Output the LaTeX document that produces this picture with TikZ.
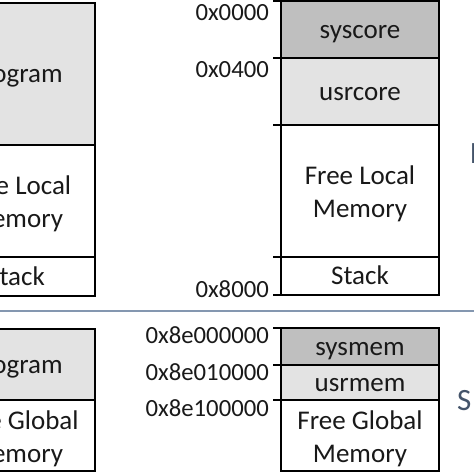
\documentclass[tikz,border=0pt]{standalone}
\usepackage{fontspec}
\setmainfont{Carlito}
\definecolor{darkfill}{HTML}{BFBFBF}
\definecolor{lightfill}{HTML}{E3E3E3}
\definecolor{divider}{HTML}{8497B0}
\definecolor{accent}{HTML}{44546A}
\newcommand{\firstline}{\rule{0pt}{25pt}}
\tikzset{
  cell/.style={draw=black, line width=1.2pt, minimum width=158pt, anchor=north west,
    inner sep=0pt, outer sep=0pt, font=\fontsize{27}{33}\selectfont, align=center, text=black!90},
  onecell/.style={cell, text height=22pt, text depth=5pt},
  darkcell/.style={onecell, fill=darkfill},
  lightcell/.style={onecell, fill=lightfill},
  addr/.style={anchor=base east, inner sep=0pt, font=\fontsize{24.7}{29}\selectfont, text=black!90},
  tickline/.style={line width=1.2pt},
  outerline/.style={line width=2pt},
  sidelabel/.style={anchor=west, inner sep=0pt, text=accent, font=\fontsize{31}{37}\selectfont}
}
\begin{document}
\begin{tikzpicture}[x=1pt,y=-1pt]
\useasboundingbox (0,0) rectangle (474,474);
% left top column
\node[lightcell, minimum height=142pt] (lprog) at (-63,3) {Program};
\node[cell, minimum height=112pt] (lfree) at (lprog.south west) {\firstline Free Local\\Memory};
\node[onecell, minimum height=39pt] (lstack) at (lfree.south west) {Stack};
\draw[outerline] (lprog.north west) rectangle (lstack.south east);
% left bottom column
\node[lightcell, minimum height=71pt] (lgprog) at (-63,329) {Program};
\node[cell, minimum height=71pt] (lgfree) at (lgprog.south west) {\firstline Free Global\\Memory};
\draw[outerline] (lgprog.north west) rectangle (lgfree.south east);
% right top column
\node[darkcell, minimum height=57pt] (sys) at (281,1) {syscore};
\node[lightcell, minimum height=67pt] (usr) at (sys.south west) {usrcore};
\node[cell, minimum height=132pt] (free) at (usr.south west) {\firstline Free Local\\Memory};
\node[onecell, minimum height=38pt] (stk) at (free.south west) {Stack};
\draw[outerline] (sys.north west) rectangle (stk.south east);
\foreach \a in {sys.north west, usr.north west, free.north west, stk.north west, stk.south west}
  \draw[tickline] (\a) -- ++(-8,0);
\node[addr] (a0) at (269,20) {0x0000};
\node[addr] (a1) at (269,77) {0x0400};
\node[addr] (a2) at (269,297) {0x8000};
% right bottom column
\node[darkcell, minimum height=37pt] (sysm) at (281,328) {sysmem};
\node[lightcell, minimum height=35pt] (usrm) at (sysm.south west) {usrmem};
\node[cell, minimum height=71pt] (freem) at (usrm.south west) {\firstline Free Global\\Memory};
\draw[outerline] (sysm.north west) rectangle (freem.south east);
\foreach \a in {sysm.north west, usrm.north west, freem.north west}
  \draw[tickline] (\a) -- ++(-8,0);
\node[addr] (b0) at (269,343) {0x8e000000};
\node[addr] (b1) at (269,380) {0x8e010000};
\node[addr] (b2) at (269,416) {0x8e100000};
% divider
\coordinate (dl) at (0,311);
\coordinate (dr) at (474,311);
\draw[divider, line width=1.3pt] (dl) -- (dr);
% side labels
\node[sidelabel] (s1) at (470,154) {L};
\node[sidelabel] (s2) at (457,401) {S};
\end{tikzpicture}
\end{document}
